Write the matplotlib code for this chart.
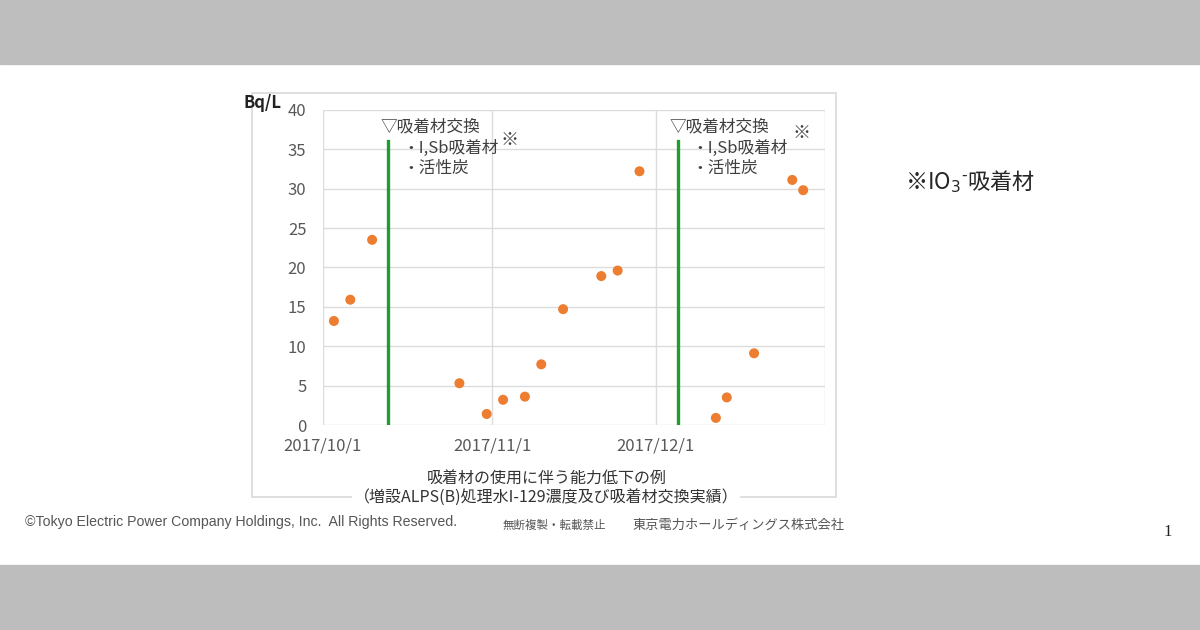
import matplotlib
matplotlib.use('Agg')
import matplotlib.pyplot as plt
import matplotlib.dates as mdates
from matplotlib.patches import Rectangle
from matplotlib import font_manager
import numpy as np
import pandas as pd

# I-129 concentration (Bq/L) in treated water
sample_dates = pd.to_datetime([
    '2017-10-03', '2017-10-06', '2017-10-10',
    '2017-10-26', '2017-10-31', '2017-11-03', '2017-11-07', '2017-11-10',
    '2017-11-14', '2017-11-21', '2017-11-24', '2017-11-28',
    '2017-12-12', '2017-12-14', '2017-12-19', '2017-12-26', '2017-12-28',
])
i129 = [13.2, 15.9, 23.5,
        5.3, 1.4, 3.2, 3.6, 7.7,
        14.7, 18.9, 19.6, 32.2,
        0.9, 3.5, 9.1, 31.1, 29.8]

# adsorbent replacement dates (green lines)
swap_dates = pd.to_datetime(['2017-10-13', '2017-12-05'])
swap_top = 36

x_ticks = pd.to_datetime(['2017-10-01', '2017-11-01', '2017-12-01', '2018-01-01'])
x_tick_labels = ['2017/10/1', '2017/11/1', '2017/12/1', '']
y_ticks = np.arange(0, 41, 5)

names = {f.name for f in font_manager.fontManager.ttflist}
narrow = 'Liberation Sans Narrow' if 'Liberation Sans Narrow' in names else 'Liberation Sans'
jp = ['Noto Sans CJK JP', 'DejaVu Sans']
plt.rcParams['font.family'] = jp

W, H = 1200, 630
fig = plt.figure(figsize=(12, 6.3), dpi=100)
fig.patch.set_facecolor('white')


def fx(x):
    return x / W


def fy(y):
    return 1 - y / H


# blurred grey bands above and below the slide
fig.add_artist(Rectangle((0, fy(64)), 1, 64 / H, transform=fig.transFigure,
                         color='#bebebe', zorder=0))
fig.add_artist(Rectangle((0, 0), 1, (H - 565) / H, transform=fig.transFigure,
                         color='#bdbdbd', zorder=0))

# chart frame
fig.add_artist(Rectangle((fx(252), fy(497)), (836 - 252) / W, (497 - 93) / H,
                         transform=fig.transFigure, fill=False,
                         edgecolor='#d9d9d9', lw=1.2, zorder=1))

ax = fig.add_axes([fx(323), fy(425), (825 - 323) / W, (425 - 109.8) / H])
ax.set_facecolor('none')

ax.scatter(sample_dates, i129, s=52, color='#ED7D31', edgecolors='none', zorder=3)
for d in swap_dates:
    ax.plot([d, d], [0, swap_top], color='#1e9e2f', lw=2.4, zorder=2)

ax.set_xlim(x_ticks[0], x_ticks[-1])
ax.set_ylim(0, 40)
ax.set_xticks(x_ticks)
ax.set_xticklabels(x_tick_labels)
ax.set_yticks(y_ticks)
ax.grid(color='#dcdcdc', lw=1)
ax.set_axisbelow(True)
for s in ax.spines.values():
    s.set_visible(False)
ax.tick_params(length=0, colors='#595959', labelsize=12)
ax.tick_params(axis='x', pad=9)
ax.tick_params(axis='y', pad=12)

# annotations near each replacement line
ann = dict(fontsize=12, color='#404040', va='center', ha='left',
           textcoords='offset points', annotation_clip=False)
star_offsets = [(87, 1), (89, 6)]
for d, so in zip(swap_dates, star_offsets):
    ax.annotate('▽吸着材交換', xy=(d, swap_top), xytext=(-6, 10.3), **ann)
    ax.annotate('・I,Sb吸着材', xy=(d, swap_top), xytext=(10, -5), **ann)
    ax.annotate('・活性炭', xy=(d, swap_top), xytext=(10, -19.5), **ann)
    ax.annotate('※', xy=(d, swap_top), xytext=so, fontsize=13, color='#404040',
                va='center', ha='center', textcoords='offset points',
                annotation_clip=False)

fig.text(fx(243), fy(103), 'Bq/L', fontsize=12, color='#222222',
         va='center', ha='left', fontweight='bold')

# axis caption, over the frame's bottom edge
fig.text(fx(547), fy(479), '吸着材の使用に伴う能力低下の例', fontsize=11.5,
         color='#333333', ha='center', va='center')
fig.text(fx(546), fy(497), '（増設ALPS(B)処理水I-129濃度及び吸着材交換実績）',
         fontsize=11.5, color='#333333', ha='center', va='center',
         bbox=dict(facecolor='white', edgecolor='none', pad=1))

# side note
fig.text(fx(905), fy(182), r'※IO$_3$$^{\text{-}}$吸着材', fontsize=16, color='#262626',
         ha='left', va='center')

# footer
fig.text(fx(25), fy(522), '©Tokyo Electric Power Company Holdings, Inc.  All Rights Reserved.',
         fontsize=10.2, color='#555555', ha='left', va='center', family=narrow)
fig.text(fx(503), fy(525), '無断複製・転載禁止', fontsize=8.3, color='#555555',
         ha='left', va='center')
fig.text(fx(632), fy(525), '東京電力ホールディングス株式会社', fontsize=9.5,
         color='#555555', ha='left', va='center')
fig.text(fx(1168), fy(532), '1', fontsize=12, color='#222222', ha='center',
         va='center', family='Liberation Serif')

fig.savefig('out.png', dpi=100)
